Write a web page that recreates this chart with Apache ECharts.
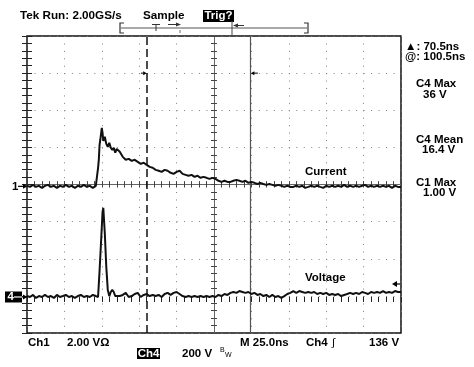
<!DOCTYPE html>
<html><head><meta charset="utf-8">
<script src="https://cdn.jsdelivr.net/npm/echarts@6/dist/echarts.min.js"></script>
<style>html,body{margin:0;padding:0;background:#fff}#c{width:474px;height:367px}</style>
</head><body><div id="c"></div>
<script>
// Channel 1 (current probe), time in ns, value in V
const currentTimes = [0,2,4,6,8,10,12,14,
16,18,20,22,24,26,28,30,
32,34,36,38,40,42,44,46,
47,47.5,48,48.5,49,50,50.5,51,
52,53,54,55,56,57,58,59,
60,62,64,66,68,70,72,74,
76,78,80,82,84,86,88,90,
92,94,96,98,100,102,104,106,
108,110,112,114,116,118,120,122,
124,126,128,130,132,134,136,138,
140,142,144,146,148,150,152,154,
156,158,160,162,164,166,168,170,
172,174,176,178,180,182,184,186,
188,190,192,194,196,198,200,202,
204,206,208,210,212,214,216,218,
220,222,224,226,228,230,232,234,
236,238,240,242,244,246,248,250];
const currentVolts = [0.03,-0.03,0.08,-0.03,0.03,-0.08,0.03,0.08,
-0.03,0.03,-0.08,0.03,-0.03,0.08,-0.03,0.03,
-0.08,0.03,-0.03,0.08,-0.03,0.03,-0.08,0.03,
-0.03,1.00,1.43,2.24,2.51,3.15,2.88,2.45,
2.67,2.29,2.13,2.34,2.08,1.97,2.08,1.81,
2.02,1.86,1.59,1.43,1.48,1.37,1.43,1.32,
1.21,1.27,1.16,1.05,1.00,0.89,0.84,0.78,
0.89,0.84,0.73,0.67,0.78,0.84,0.67,0.62,
0.57,0.62,0.51,0.57,0.46,0.51,0.46,0.40,
0.46,0.40,0.30,0.24,0.30,0.24,0.24,0.30,
0.35,0.30,0.24,0.30,0.19,0.24,0.19,0.13,
0.19,0.13,0.08,0.13,0.08,0.03,0.08,0.03,
-0.03,0.03,-0.03,-0.03,0.03,-0.03,0.03,-0.08,
-0.03,0.03,-0.03,0.03,-0.03,-0.08,0.03,-0.03,
0.03,-0.03,0.03,-0.03,0.08,-0.03,0.03,-0.03,
0.03,-0.03,0.03,0.08,-0.03,0.03,-0.03,0.03,
-0.03,0.03,-0.03,0.03,-0.08,0.03,-0.03,-0.03];

// Channel 4 (voltage), time in ns, value in V
const voltageTimes = [0,2,4,6,8,10,12,14,
16,18,20,22,24,26,28,30,
32,34,36,38,40,42,44,46,
47.5,48.5,49.5,50.5,51,52,53,54,
55,56,57,58,59,60,62,64,
66,68,70,72,74,76,78,80,
82,84,86,88,90,92,94,96,
98,100,102,104,106,108,110,112,
114,116,118,120,122,124,126,128,
130,132,134,136,138,140,142,144,
146,148,150,152,154,156,158,160,
162,164,166,168,170,172,174,176,
178,180,182,184,186,188,190,192,
194,196,198,200,202,204,206,208,
210,212,214,216,218,220,222,224,
226,228,230,232,234,236,238,240,
242,244,246,248,250];
const voltageVolts = [5,0,11,-5,5,0,11,0,
5,-5,11,0,5,11,0,5,
-5,5,11,0,5,0,11,5,
0,140,296,458,480,345,162,38,
5,27,38,27,5,0,5,11,
22,0,5,16,22,0,11,16,
5,11,5,11,0,16,22,11,
22,27,16,5,0,5,0,5,
0,5,0,5,0,5,0,11,
5,16,11,22,27,22,32,27,
22,27,16,22,11,16,5,11,
0,11,0,5,-5,5,16,22,
32,22,32,27,22,27,22,27,
16,22,16,22,11,16,11,16,
5,11,16,22,16,22,16,27,
22,16,27,22,27,22,32,22,
27,22,32,27,27];

const timeRange = [0, 250];       // 10 div x 25.0 ns
const timePerDiv = 25;
const ch1Range = [-7.9, 8.1];     // 2.00 V/div
const ch4Range = [-194, 1406];    // 200 V/div
const cursorTimes = [80, 149];    // dashed, solid
const trigLevel = 70;

const FONT = '"Liberation Sans", Arial, Helvetica, sans-serif';
const F = (s) => 'bold ' + s + 'px ' + FONT;

const chart = echarts.init(document.getElementById('c'), null, {renderer: 'canvas'});

const tickStyle = {color: '#222', width: 1};
const cTick = {color: '#444', width: 1};
function xAx(extra) {
  return Object.assign({
    type: 'value', min: timeRange[0], max: timeRange[1], interval: timePerDiv,
    axisLine: {show: false}, axisLabel: {show: false}, splitLine: {show: false},
    axisTick: {show: true, inside: true, length: 5, lineStyle: tickStyle},
    minorTick: {show: true, splitNumber: 5, length: 5, lineStyle: tickStyle}
  }, extra);
}
function yDiv(extra) {
  return Object.assign({
    type: 'value', min: -4, max: 4, interval: 1,
    axisLine: {show: false}, axisLabel: {show: false}, splitLine: {show: false},
    axisTick: {show: true, inside: true, length: 5, lineStyle: tickStyle},
    minorTick: {show: true, splitNumber: 5, length: 5, lineStyle: tickStyle}
  }, extra);
}

const option = {
  backgroundColor: '#fff',
  animation: false,
  grid: {left: 27, top: 36, width: 374, height: 297, show: true,
         borderColor: '#111', borderWidth: 1.5, backgroundColor: 'transparent'},
  xAxis: [
    xAx({position: 'bottom',
         splitLine: {show: true, lineStyle: {color: '#808080', width: 1, type: [1, 6.43]}}}),
    xAx({position: 'top'}),
    xAx({position: 'bottom', offset: -148.5,
         axisLine: {show: true, lineStyle: {color: '#666', width: 1}},
         axisTick: {show: true, inside: true, length: 3, lineStyle: cTick},
         minorTick: {show: true, splitNumber: 5, length: 3, lineStyle: cTick}}),
    xAx({position: 'bottom', offset: -148.5,
         axisTick: {show: true, inside: false, length: 3, lineStyle: cTick},
         minorTick: {show: true, splitNumber: 5, length: 3, lineStyle: cTick}})
  ],
  yAxis: [
    {type: 'value', min: ch1Range[0], max: ch1Range[1], show: false},
    {type: 'value', min: ch4Range[0], max: ch4Range[1], show: false},
    yDiv({position: 'left',
          splitLine: {show: true, lineStyle: {color: '#808080', width: 1, type: [1, 6.48]}}}),
    yDiv({position: 'right'}),
    yDiv({position: 'left', offset: -187,
          axisLine: {show: true, lineStyle: {color: '#666', width: 1}},
          axisTick: {show: true, inside: true, length: 3, lineStyle: cTick},
          minorTick: {show: true, splitNumber: 5, length: 3, lineStyle: cTick}}),
    yDiv({position: 'left', offset: -187,
          axisTick: {show: true, inside: false, length: 3, lineStyle: cTick},
          minorTick: {show: true, splitNumber: 5, length: 3, lineStyle: cTick}})
  ],
  series: [
    {type: 'line', name: 'Current', xAxisIndex: 0, yAxisIndex: 0,
     data: currentTimes.map((t, i) => [t, currentVolts[i]]),
     showSymbol: false, symbol: 'none', lineStyle: {color: '#111', width: 2}, z: 5,
     markLine: {silent: true, symbol: 'none', label: {show: false},
       data: [
         {xAxis: cursorTimes[0], lineStyle: {color: '#111', width: 1.5, type: [8, 4]}},
         {xAxis: cursorTimes[1], lineStyle: {color: '#555', width: 1.2, type: 'solid'}}
       ]}},
    {type: 'line', name: 'Voltage', xAxisIndex: 0, yAxisIndex: 1,
     data: voltageTimes.map((t, i) => [t, voltageVolts[i]]),
     showSymbol: false, symbol: 'none', lineStyle: {color: '#111', width: 2}, z: 5}
  ]
};
chart.setOption(option);

const px = (xi, v) => chart.convertToPixel({xAxisIndex: xi}, v);
const py = (yi, v) => chart.convertToPixel({yAxisIndex: yi}, v);

function T(text, x, y, size, extra) {
  return {type: 'text', x: x, y: y, silent: true, z: 20,
    style: Object.assign({text: text, font: F(size), fill: '#000',
      align: 'left', textAlign: 'left', verticalAlign: 'middle', textVerticalAlign: 'middle'}, extra || {})};
}
function L(x1, y1, x2, y2, color, w) {
  return {type: 'line', silent: true, z: 20,
    shape: {x1: x1, y1: y1, x2: x2, y2: y2}, style: {stroke: color || '#000', lineWidth: w || 1}};
}
function P(points, color) {
  return {type: 'polygon', silent: true, z: 20, shape: {points: points}, style: {fill: color || '#000'}};
}
function PL(points, color, w) {
  return {type: 'polyline', silent: true, z: 20, shape: {points: points},
    style: {stroke: color || '#000', lineWidth: w || 1, fill: null}};
}
function R(x, y, w, h) {
  return {type: 'rect', silent: true, z: 19, shape: {x: x, y: y, width: w, height: h}, style: {fill: '#000'}};
}

const y1 = py(0, 0);
const y4 = py(1, 0);
const yTrig = py(1, trigLevel);
const yCur = py(2, 3);
const xDash = px(0, cursorTimes[0]);
const xSolid = px(0, cursorTimes[1]);

const g = [
  // header
  T('Tek Run: 2.00GS/s', 20, 16, 11.7),
  T('Sample', 143, 16, 11.7),
  R(203, 10, 31, 12),
  T('Trig?', 218.5, 16, 11.5, {fill: '#fff', align: 'center', textAlign: 'center'}),
  PL([[124, 23], [120, 23], [120, 33], [124, 33]], '#333', 1.2),
  L(121, 28, 307, 28, '#555', 1),
  PL([[304, 23], [308, 23], [308, 33], [304, 33]], '#333', 1.2),
  L(152, 24.5, 160, 24.5, '#333', 1),
  L(156, 24.5, 156, 31, '#333', 1),
  L(168, 24.5, 177, 24.5, '#333', 1),
  P([[181, 24.5], [176, 22.5], [176, 26.5]], '#333'),
  L(180, 30, 180, 33, '#666', 1),
  L(232, 21, 232, 36, '#444', 1),
  L(237, 25.5, 244, 25.5, '#333', 1),
  P([[233, 25.5], [238, 23.5], [238, 27.5]], '#333'),
  // right panel
  T('\u25B2: 70.5ns', 405, 47, 11.5),
  T('@: 100.5ns', 405, 57, 11.5),
  T('C4 Max', 416, 84, 11.5),
  T('36 V', 423, 95, 11.5),
  T('C4 Mean', 416, 140, 11.5),
  T('16.4 V', 422, 150, 11.5),
  T('C1 Max', 416, 183, 11.5),
  T('1.00 V', 423, 193, 11.5),
  // bottom
  T('Ch1', 28, 343, 11.5),
  T('2.00 V\u03A9', 67, 343, 11.5),
  T('M 25.0ns', 240, 343, 11.5),
  T('Ch4', 306, 343, 11.5),
  T('\u222B', 332, 343, 11, {font: '11px ' + FONT}),
  T('136 V', 369, 343, 11.5),
  R(137, 348, 23, 11),
  T('Ch4', 148.5, 353.5, 11.5, {fill: '#fff', align: 'center', textAlign: 'center'}),
  T('200 V', 182, 353.5, 11.5),
  T('B', 220, 350, 7, {font: '7px ' + FONT}),
  T('W', 225, 355, 7, {font: '7px ' + FONT}),
  // trace labels
  T('Current', 305, 172, 11.5),
  T('Voltage', 305, 278, 11.5),
  // ground markers
  T('1', 12, y1, 11.5),
  L(18, y1, 24, y1, '#000', 1.2),
  P([[27.5, y1], [23, y1 - 2.5], [23, y1 + 2.5]]),
  R(5, y4 - 5.5, 17, 11),
  T('4', 7.5, y4, 11.5, {fill: '#fff'}),
  L(14, y4, 22, y4, '#fff', 1.2),
  L(22, y4, 24, y4, '#000', 1.2),
  P([[27.5, y4], [23, y4 - 2.5], [23, y4 + 2.5]]),
  // trigger level marker
  P([[392, yTrig], [397, yTrig - 3], [397, yTrig + 3]]),
  L(396, yTrig, 400, yTrig, '#000', 1.2),
  // cursor arrows
  L(141, yCur, 143.5, yCur, '#000', 1),
  P([[xDash, yCur], [xDash - 3.5, yCur - 2], [xDash - 3.5, yCur + 2]]),
  L(xSolid + 4, yCur, xSolid + 8, yCur, '#000', 1),
  P([[xSolid + 1, yCur], [xSolid + 4.5, yCur - 2], [xSolid + 4.5, yCur + 2]])
];
chart.setOption({graphic: {elements: g}});
</script>
</body></html>
